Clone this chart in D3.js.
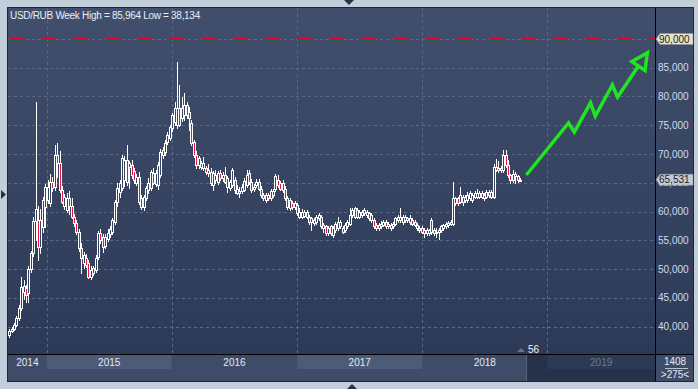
<!DOCTYPE html>
<html lang="en">
<head>
<meta charset="UTF-8">
<title>USD/RUB Week</title>
<style>
  html, body { margin: 0; padding: 0; background: #c3cedb; }
  svg { display: block; font-family: "Liberation Sans", Arial, sans-serif; }
</style>
</head>
<body>
<div id="chart"></div>
<script src="https://cdn.jsdelivr.net/npm/d3@7"></script>
<script>
// weekly candles, first one is the week of 15 Sep 2014
const firstWeek = new Date(Date.UTC(2014, 8, 15));

const opens = [
  38.5, 39.3, 39.6, 40.3, 41.5, 43.3, 46.0, 46.7, 45.8, 50.0,
  52.8, 58.3, 58.5, 53.8, 57.3, 60.8, 62.0, 61.5, 65.1, 64.3,
  69.8, 68.5, 63.8, 61.0, 60.3, 62.3, 61.0, 59.0, 58.0, 56.4,
  53.6, 51.0, 52.0, 51.0, 48.6, 49.3, 49.8, 52.1, 56.3, 55.6,
  54.0, 55.3, 56.0, 56.4, 58.2, 61.6, 63.4, 64.1, 65.5, 69.0,
  67.7, 68.1, 67.0, 65.0, 66.0, 62.3, 60.8, 62.3, 63.7, 64.1,
  66.7, 64.8, 64.6, 66.3, 69.8, 70.3, 72.1, 72.8, 74.5, 75.6,
  75.0, 78.0, 76.3, 76.8, 78.5, 77.3, 75.4, 72.1, 69.8, 68.1,
  68.4, 67.6, 67.6, 66.7, 66.9, 64.6, 65.5, 65.1, 66.7, 65.8,
  66.3, 64.3, 64.1, 64.6, 65.5, 63.3, 63.6, 63.6, 63.8, 64.6,
  66.7, 65.1, 64.0, 64.6, 65.2, 64.0, 62.9, 62.0, 62.9, 62.3,
  62.9, 64.0, 65.5, 64.9, 64.9, 64.0, 62.3, 60.6, 61.4, 60.8,
  61.1, 59.1, 59.1, 59.3, 60.0, 59.1, 58.2, 58.0, 58.2, 58.8,
  59.1, 57.1, 57.4, 56.2, 57.4, 55.9, 56.8, 57.1, 57.4, 57.1,
  56.8, 57.4, 57.9, 59.4, 60.6, 60.3, 59.1, 59.4, 59.7, 59.4,
  59.7, 58.5, 58.5, 57.7, 57.1, 57.4, 57.7, 58.2, 57.4, 57.7,
  57.4, 57.9, 58.5, 58.5, 58.2, 58.5, 58.5, 58.2, 58.5, 58.2,
  57.7, 57.1, 57.1, 56.3, 56.2, 56.2, 58.5, 56.2, 56.2, 56.5,
  56.8, 57.1, 57.4, 57.6, 57.9, 57.9, 61.4, 62.3, 61.7, 61.7,
  62.0, 62.0, 62.3, 62.0, 62.6, 62.6, 62.6, 62.6, 62.9, 62.6,
  63.4, 62.6, 62.6, 67.8, 67.2, 67.2, 67.2, 69.8, 68.1, 66.3,
  65.5, 66.1, 66.1, 65.5
];
const highs = [
  39.6, 40.0, 40.6, 41.8, 43.7, 48.6, 48.1, 47.3, 50.6, 53.2,
  59.0, 79.0, 61.0, 60.5, 62.5, 64.8, 65.5, 66.5, 66.0, 71.6,
  71.9, 70.6, 64.5, 63.0, 63.2, 63.5, 62.3, 59.6, 58.5, 57.0,
  54.5, 53.0, 52.6, 51.5, 50.5, 50.6, 52.4, 56.6, 56.9, 56.0,
  56.1, 57.0, 57.4, 58.9, 62.0, 65.0, 65.5, 69.8, 69.6, 71.6,
  68.8, 68.9, 67.6, 66.6, 66.8, 62.8, 62.9, 64.5, 65.8, 67.3,
  67.5, 67.2, 68.6, 70.8, 71.2, 72.5, 73.8, 75.0, 77.2, 79.0,
  85.964, 82.0, 79.9, 80.6, 79.0, 78.2, 76.0, 72.5, 70.5, 69.6,
  68.7, 69.5, 67.9, 68.3, 67.5, 67.0, 67.3, 67.0, 67.2, 66.8,
  67.7, 66.1, 65.5, 67.5, 66.0, 64.6, 64.3, 64.7, 65.8, 67.2,
  67.2, 65.6, 64.8, 65.6, 65.6, 64.4, 63.2, 63.2, 63.3, 63.9,
  63.9, 66.6, 66.4, 65.3, 65.4, 64.4, 62.7, 62.4, 61.8, 61.8,
  61.5, 60.6, 60.4, 60.3, 60.3, 59.4, 59.1, 58.8, 59.4, 59.7,
  59.4, 58.0, 57.7, 57.4, 57.7, 57.4, 58.2, 59.1, 58.5, 57.4,
  58.0, 58.5, 60.6, 60.6, 60.8, 60.6, 60.3, 60.3, 60.6, 60.3,
  60.0, 59.7, 58.8, 58.0, 58.0, 58.3, 58.5, 58.5, 58.2, 58.0,
  58.2, 59.1, 59.4, 60.6, 59.4, 59.4, 59.1, 59.4, 58.8, 58.5,
  58.0, 57.4, 57.4, 57.1, 57.1, 57.0, 58.8, 57.1, 57.1, 57.1,
  57.6, 57.9, 58.2, 58.3, 58.5, 65.2, 62.6, 62.6, 64.3, 62.9,
  62.9, 63.4, 63.5, 63.2, 63.5, 64.0, 63.5, 63.5, 63.2, 63.7,
  63.7, 63.7, 68.2, 69.2, 68.7, 68.0, 70.7, 70.7, 69.0, 66.6,
  67.2, 66.9, 66.4, 65.8
];
const lows = [
  38.134, 39.0, 39.4, 40.1, 41.2, 42.9, 44.8, 44.3, 44.3, 49.5,
  52.3, 55.0, 51.6, 52.8, 56.5, 57.3, 61.5, 61.0, 63.5, 63.8,
  66.0, 63.4, 61.5, 60.5, 60.0, 59.5, 58.8, 57.5, 56.0, 53.2,
  49.3, 50.2, 50.3, 48.4, 48.3, 49.0, 49.5, 51.8, 54.6, 52.9,
  53.6, 54.9, 55.6, 56.0, 57.8, 61.0, 62.6, 63.8, 64.5, 64.6,
  64.1, 65.8, 65.0, 64.6, 61.3, 60.5, 60.3, 62.0, 63.3, 63.8,
  64.7, 64.5, 64.0, 66.0, 69.3, 69.8, 71.8, 72.5, 74.0, 75.0,
  74.5, 74.8, 75.8, 76.0, 76.3, 74.2, 71.6, 69.5, 67.5, 67.6,
  67.4, 67.2, 66.5, 66.2, 64.6, 63.7, 65.0, 64.7, 65.5, 65.3,
  64.9, 63.4, 63.7, 64.3, 63.3, 63.0, 62.6, 63.2, 63.5, 64.3,
  64.8, 63.4, 63.5, 64.2, 63.7, 62.6, 62.0, 61.7, 62.0, 62.0,
  62.6, 63.6, 64.3, 63.7, 63.4, 62.0, 60.5, 60.2, 60.5, 60.5,
  59.4, 58.8, 58.8, 59.0, 58.8, 57.9, 56.8, 57.7, 57.9, 58.5,
  57.1, 56.5, 55.9, 55.9, 55.9, 55.6, 56.5, 56.8, 57.1, 56.2,
  56.5, 57.1, 57.7, 59.1, 58.8, 58.8, 58.8, 59.1, 59.4, 59.1,
  58.5, 58.2, 57.1, 56.8, 56.8, 57.1, 57.4, 57.1, 57.1, 56.8,
  57.1, 57.7, 58.2, 58.2, 57.9, 58.2, 58.2, 57.9, 57.7, 57.4,
  56.8, 56.5, 56.2, 55.5, 55.9, 55.9, 56.0, 55.9, 55.6, 55.3,
  56.5, 56.8, 57.1, 57.3, 57.6, 57.6, 61.1, 61.1, 61.4, 61.1,
  61.7, 61.7, 62.0, 61.7, 62.3, 62.3, 62.3, 62.3, 62.0, 62.3,
  62.6, 62.3, 62.3, 67.0, 66.9, 66.9, 66.9, 67.8, 66.0, 64.9,
  65.2, 64.9, 65.2, 65.3
];
const closes = [
  39.3, 39.6, 40.3, 41.5, 43.3, 46.9, 47.0, 45.5, 50.0, 52.8,
  58.3, 60.5, 53.8, 58.5, 62.0, 64.3, 64.3, 65.1, 64.1, 69.8,
  68.5, 63.8, 61.7, 62.5, 62.3, 61.0, 59.0, 58.0, 56.4, 53.6,
  51.9, 52.4, 50.7, 48.6, 49.8, 50.2, 52.0, 56.2, 55.0, 53.8,
  55.5, 56.3, 57.0, 58.5, 61.6, 64.1, 65.0, 69.3, 69.0, 65.1,
  68.4, 66.3, 65.5, 66.0, 61.6, 60.8, 62.5, 64.1, 65.0, 66.9,
  65.0, 66.7, 68.1, 70.3, 70.7, 72.0, 73.3, 74.7, 76.8, 78.0,
  78.0, 75.0, 78.0, 78.5, 76.8, 76.3, 71.9, 69.8, 68.1, 69.3,
  67.8, 68.4, 66.9, 67.2, 65.0, 66.7, 66.3, 66.7, 65.8, 66.3,
  65.1, 65.8, 65.1, 67.2, 63.7, 64.0, 63.2, 64.3, 65.3, 66.3,
  65.1, 63.7, 64.3, 65.2, 64.0, 62.9, 62.3, 62.9, 62.3, 63.5,
  63.5, 66.1, 64.6, 64.0, 63.7, 62.3, 60.8, 62.0, 60.8, 61.4,
  59.7, 60.0, 60.0, 60.0, 59.1, 58.2, 58.8, 58.5, 59.1, 59.4,
  57.4, 57.7, 56.2, 57.1, 56.2, 57.1, 57.9, 58.2, 58.2, 56.5,
  57.7, 58.2, 59.4, 60.3, 59.1, 59.1, 60.0, 60.0, 60.3, 60.0,
  58.8, 59.4, 57.4, 57.1, 57.7, 57.9, 58.2, 57.4, 57.9, 57.1,
  57.9, 58.8, 59.1, 59.1, 59.1, 59.1, 58.8, 58.8, 57.9, 57.7,
  57.1, 56.8, 56.5, 56.8, 56.8, 56.8, 56.5, 56.8, 56.5, 56.8,
  57.4, 57.6, 57.9, 58.0, 58.2, 62.3, 62.3, 61.4, 62.9, 62.6,
  62.6, 62.9, 63.2, 62.9, 63.2, 63.2, 63.2, 63.2, 62.3, 63.4,
  62.9, 63.4, 67.8, 67.2, 67.5, 67.5, 69.8, 68.1, 66.3, 65.5,
  66.6, 66.6, 65.5, 65.531
];

const yTicks = [40, 45, 50, 55, 60, 65, 70, 75, 80, 85, 90];
const yearStarts = [2015, 2016, 2017, 2018, 2019];
const yearLabels = ["2014", "2015", "2016", "2017", "2018", "2019"];
const levelValue = 90;
const barsBack = "56";
const footerTop = "1408";
const footerBottom = ">275<";

// forecast arrow drawn on the chart
const arrowDates = ["2018-11-01", "2019-03-04", "2019-03-21", "2019-05-07", "2019-05-21", "2019-07-10", "2019-07-25", "2019-10-20"];
const arrowValues = [66.35, 75.4, 73.8, 78.9, 76.6, 82.0, 79.9, 87.6];

const width = 698, height = 389;
const plotLeft = 8, plotTop = 8, plotRight = 655, plotBottom = 354, frameRight = 693, frameBottom = 381;
const bandBottom = 369;

const fmt = d3.formatLocale({decimal: ",", thousands: ".", grouping: [3], currency: ["", ""]}).format(".3f");
const utc = yr => new Date(Date.UTC(yr, 0, 1));

const weeks = closes.map((d, i) => d3.utcWeek.offset(firstWeek, i));

const x = d3.scaleUtc()
  .domain([utc(2015), utc(2019)])
  .range([46.7, 547.3]);

const y = d3.scaleLinear()
  .domain([40, 90])
  .range([326.5, 39]);

const svg = d3.create("svg")
  .attr("width", width)
  .attr("height", height)
  .attr("viewBox", [0, 0, width, height]);

const defs = svg.append("defs");
const grad = defs.append("linearGradient")
  .attr("id", "bg")
  .attr("gradientUnits", "userSpaceOnUse")
  .attr("x1", 0).attr("y1", plotTop).attr("x2", 0).attr("y2", plotBottom);
grad.append("stop").attr("offset", 0).attr("stop-color", "#414f6c");
grad.append("stop").attr("offset", 1).attr("stop-color", "#2c3957");

defs.append("clipPath").attr("id", "plot")
  .append("rect").attr("x", plotLeft).attr("y", plotTop)
  .attr("width", plotRight - plotLeft).attr("height", plotBottom - plotTop);

// outer scroll markers
svg.append("path").attr("d", "M344,0H354L349,5Z").attr("fill", "#27324a");
svg.append("path").attr("d", "M347,389H357L352,384Z").attr("fill", "#27324a");
svg.append("path").attr("d", "M1,190V199L6,194.5Z").attr("fill", "#27324a");

// panel
svg.append("rect")
  .attr("x", plotLeft - 0.5).attr("y", plotTop - 0.5)
  .attr("width", frameRight - plotLeft + 1).attr("height", frameBottom - plotTop + 1)
  .attr("fill", "url(#bg)")
  .attr("stroke", "#1e2638");

// time axis bands
const lastX = Math.round(x(weeks[weeks.length - 1]));
const futureX = lastX + 6;
const edges = [plotLeft, ...yearStarts.map(d => x(utc(d))), plotRight];

const axisG = svg.append("g");
axisG.append("rect")
  .attr("x", plotLeft).attr("y", plotBottom + 1)
  .attr("width", frameRight - plotLeft).attr("height", frameBottom - plotBottom - 1)
  .attr("fill", "#3e4c68");

axisG.selectAll(".band")
  .data(yearLabels)
  .join("rect")
  .attr("x", (d, i) => edges[i])
  .attr("y", plotBottom + 1)
  .attr("width", (d, i) => Math.max(0, Math.min(edges[i + 1], futureX) - edges[i]))
  .attr("height", bandBottom - plotBottom - 1)
  .attr("fill", (d, i) => i % 2 ? "#4b5b78" : "none");

axisG.append("rect")
  .attr("x", futureX).attr("y", plotBottom + 1)
  .attr("width", plotRight - futureX).attr("height", frameBottom - plotBottom - 1)
  .attr("fill", "#26324a");
axisG.append("rect")
  .attr("x", Math.max(futureX, edges[5])).attr("y", plotBottom + 1)
  .attr("width", plotRight - Math.max(futureX, edges[5])).attr("height", bandBottom - plotBottom - 1)
  .attr("fill", "#2d3a55");
axisG.append("line")
  .attr("x1", futureX - 0.5).attr("x2", futureX - 0.5)
  .attr("y1", plotBottom + 1).attr("y2", frameBottom)
  .attr("stroke", "#59647a");

axisG.selectAll(".yl")
  .data(yearLabels)
  .join("text")
  .attr("x", (d, i) => (edges[i] + edges[i + 1]) / 2)
  .attr("y", 366)
  .attr("text-anchor", "middle")
  .attr("font-size", 10)
  .attr("fill", (d, i) => edges[i] >= futureX ? "#6b788e" : "#e4eaf3")
  .text(d => d);

// footer box on the right
axisG.append("text")
  .attr("x", 675).attr("y", 365)
  .attr("text-anchor", "middle").attr("font-size", 10).attr("fill", "#e4eaf3")
  .text(footerTop);
axisG.append("line")
  .attr("x1", 665).attr("x2", 688).attr("y1", 368.5).attr("y2", 368.5)
  .attr("stroke", "#b8c2d4");
axisG.append("text")
  .attr("x", 675).attr("y", 378)
  .attr("text-anchor", "middle").attr("font-size", 10).attr("fill", "#e4eaf3")
  .text(footerBottom);

// grid
const grid = svg.append("g")
  .attr("stroke", "#5a6985")
  .attr("stroke-dasharray", "3,3")
  .attr("shape-rendering", "crispEdges");
grid.selectAll(".h")
  .data(yTicks)
  .join("line")
  .attr("x1", plotLeft).attr("x2", plotRight)
  .attr("y1", d => Math.round(y(d)) + 0.5)
  .attr("y2", d => Math.round(y(d)) + 0.5);
grid.selectAll(".v")
  .data(yearStarts)
  .join("line")
  .attr("x1", d => Math.round(x(utc(d))) + 0.5)
  .attr("x2", d => Math.round(x(utc(d))) + 0.5)
  .attr("y1", plotTop).attr("y2", plotBottom);

// 90,000 level
svg.append("line")
  .attr("x1", plotLeft + 1).attr("x2", plotRight)
  .attr("y1", Math.round(y(levelValue)))
  .attr("y2", Math.round(y(levelValue)))
  .attr("stroke", "#c8141e")
  .attr("stroke-width", 2)
  .attr("stroke-dasharray", "15,17");

// candles
const candles = svg.append("g")
  .attr("clip-path", "url(#plot)")
  .attr("shape-rendering", "crispEdges");

const candle = candles.selectAll("g")
  .data(closes.map((c, i) => ({date: weeks[i], o: opens[i], h: highs[i], l: lows[i], c})))
  .join("g");

candle.append("line")
  .attr("x1", d => Math.floor(x(d.date)) + 0.5)
  .attr("x2", d => Math.floor(x(d.date)) + 0.5)
  .attr("y1", d => Math.round(y(d.h)))
  .attr("y2", d => Math.round(y(d.l)) + 1)
  .attr("stroke", "#ffffff");

candle.append("rect")
  .attr("x", d => Math.floor(x(d.date)) - 0.5)
  .attr("y", d => Math.round(y(Math.max(d.o, d.c))) + 0.5)
  .attr("width", 2)
  .attr("height", d => Math.max(1, Math.round(y(Math.min(d.o, d.c))) - Math.round(y(Math.max(d.o, d.c)))))
  .attr("fill", d => d.c < d.o ? "#e3173e" : "url(#bg)")
  .attr("stroke", "#ffffff");

// forecast arrow
const pts = arrowDates.map((d, i) => [x(new Date(d + "T00:00:00Z")), y(arrowValues[i])]);
const tip = pts[pts.length - 1];
const prev = pts[pts.length - 2];
const len = Math.hypot(tip[0] - prev[0], tip[1] - prev[1]);
const ux = (tip[0] - prev[0]) / len, uy = (tip[1] - prev[1]) / len;
const base = [tip[0] - 16 * ux, tip[1] - 16 * uy];
const head = [tip, [base[0] + 8 * uy, base[1] - 8 * ux], [base[0] - 8 * uy, base[1] + 8 * ux]];

svg.append("path")
  .attr("d", d3.line()([...pts.slice(0, -1), base]))
  .attr("fill", "none")
  .attr("stroke", "#20e620")
  .attr("stroke-width", 3.5)
  .attr("stroke-linejoin", "miter");
svg.append("path")
  .attr("d", d3.line()(head) + "Z")
  .attr("fill", "none")
  .attr("stroke", "#20e620")
  .attr("stroke-width", 3.5)
  .attr("stroke-linejoin", "miter");

// bars-back marker
svg.append("path")
  .attr("d", `M${lastX - 4},352L${lastX},348L${lastX + 4},352Z`)
  .attr("fill", "#66738b");
svg.append("text")
  .attr("x", lastX + 7).attr("y", 352.5)
  .attr("font-size", 10).attr("fill", "#f0f4fa")
  .text(barsBack);

// axis frame lines
svg.append("line")
  .attr("x1", plotLeft).attr("x2", frameRight)
  .attr("y1", plotBottom + 0.5).attr("y2", plotBottom + 0.5)
  .attr("stroke", "#000");
svg.append("line")
  .attr("x1", plotRight + 0.5).attr("x2", plotRight + 0.5)
  .attr("y1", plotTop).attr("y2", frameBottom)
  .attr("stroke", "#000");

// price axis
svg.append("g")
  .attr("transform", `translate(${plotRight},0)`)
  .call(d3.axisRight(y).tickValues(yTicks).tickFormat(fmt).tickSize(0).tickPadding(3))
  .call(g => g.select(".domain").remove())
  .call(g => g.selectAll("text")
    .attr("fill", "#d0ddef")
    .attr("font-family", "Liberation Sans, Arial, sans-serif")
    .attr("font-size", 10));

// value tags
function tag(value, fill, color) {
  const ty = y(value);
  const g = svg.append("g");
  g.append("path")
    .attr("d", `M${plotRight + 1},${ty}L${plotRight + 5},${ty - 5.5}H${frameRight}V${ty + 5.5}H${plotRight + 5}Z`)
    .attr("fill", fill)
    .attr("stroke", "#8a8f98")
    .attr("stroke-width", 0.5);
  g.append("text")
    .attr("x", plotRight + 4)
    .attr("y", ty)
    .attr("dy", "0.35em")
    .attr("font-size", 10)
    .attr("fill", color)
    .text(fmt(value));
}
tag(levelValue, "#e6e2c6", "#222");
tag(closes[closes.length - 1], "#c6cad2", "#1c2230");

// title
svg.append("text")
  .attr("x", 10).attr("y", 18.5)
  .attr("font-size", 10)
  .attr("letter-spacing", "-0.3px")
  .attr("fill", "#e8eef8")
  .text(`USD/RUB Week High = ${fmt(d3.max(highs))} Low = ${fmt(d3.min(lows))}`);

document.getElementById("chart").append(svg.node());
</script>
</body>
</html>
